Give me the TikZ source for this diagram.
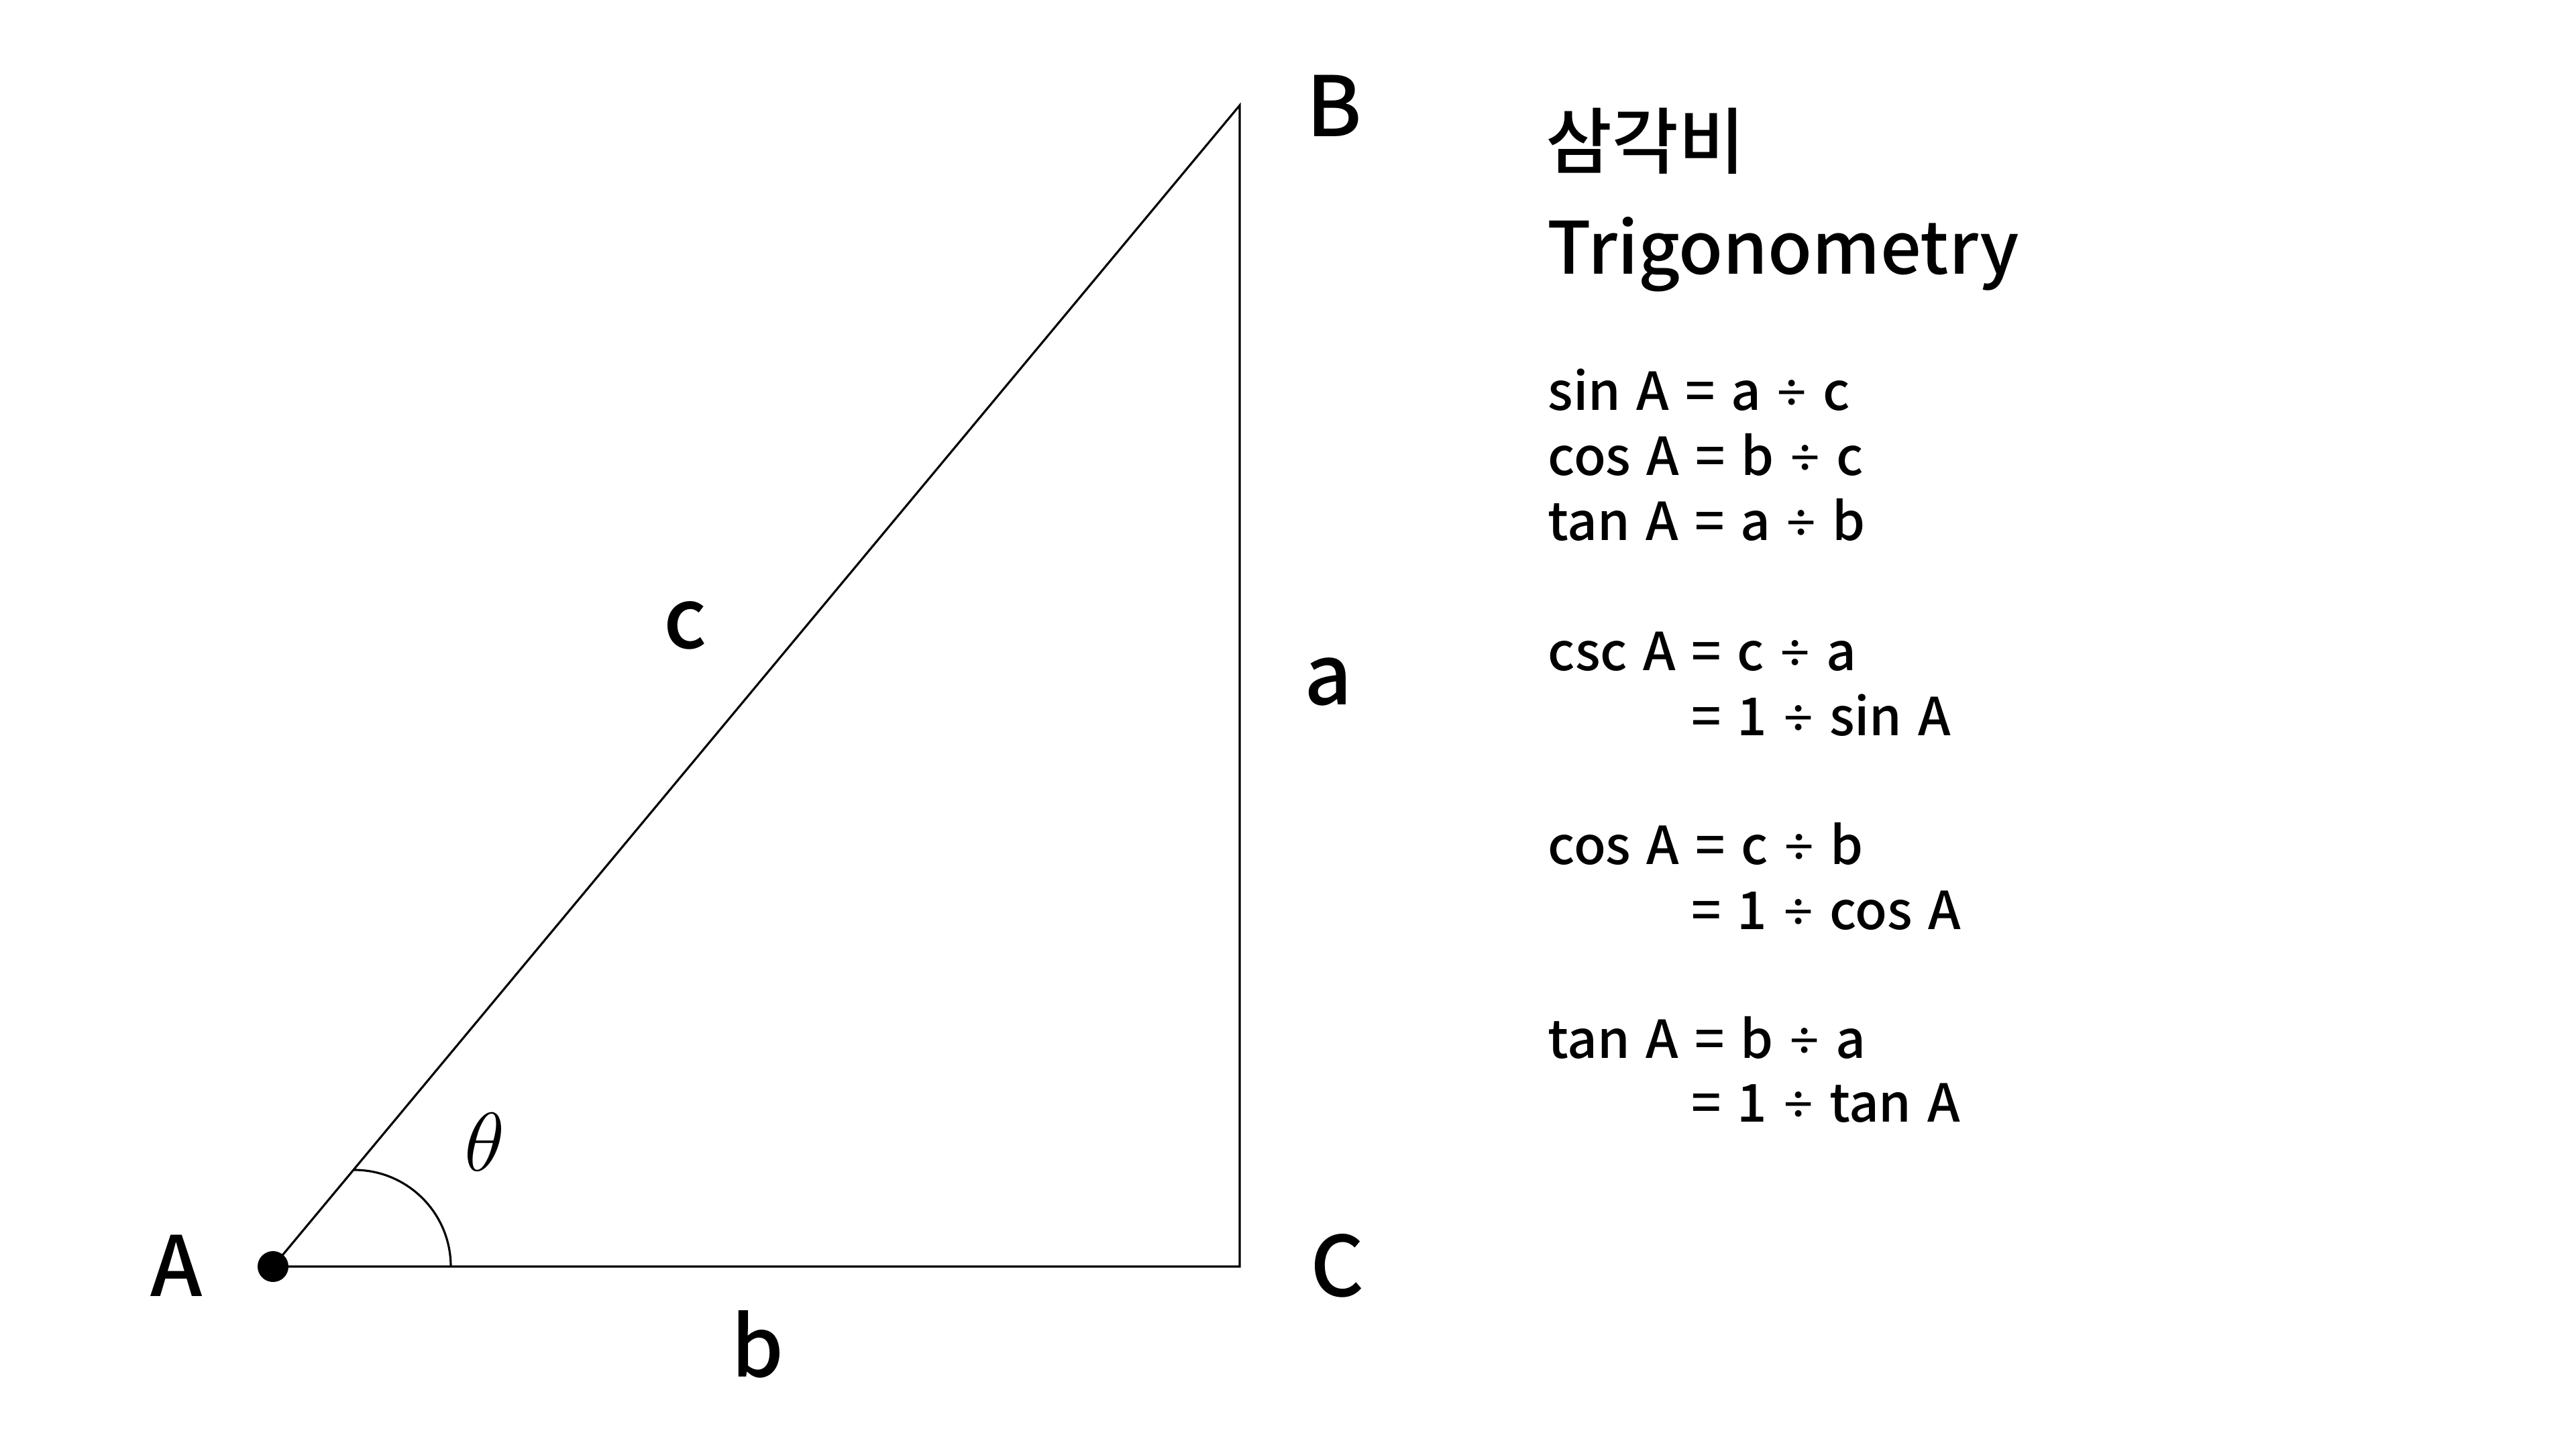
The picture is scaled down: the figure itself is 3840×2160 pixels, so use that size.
\RequirePackage{fix-cm}
\documentclass[tikz,border=0pt]{standalone}
\usepackage{fontspec}
\setmainfont{Noto Sans CJK KR}[UprightFont=* Medium]
\newfontfamily\eqfont{Noto Sans CJK KR}[UprightFont=* Medium, WordSpace=1.35]
\newfontfamily\dvfont{Lato}
\newcommand{\dv}{{\dvfont ÷}}
\begin{document}
\begin{tikzpicture}[x=0.1mm,y=-0.1mm]
\tikzset{
  lbl/.style={inner sep=0pt, anchor=base, font=\fontsize{35.3pt}{40pt}\selectfont},
  ttl/.style={inner sep=0pt, anchor=base west, font=\fontsize{30.6pt}{36pt}\selectfont},
  eqn/.style={inner sep=0pt, anchor=base west, font=\eqfont\fontsize{22.2pt}{26pt}\selectfont},
  side/.style={line width=0.9pt, black},
  vdot/.style={circle, fill=black, inner sep=0pt, minimum size=4.6mm},
}
\fill[white] (0,0) rectangle (3840,2160);
\useasboundingbox (0,0) rectangle (3840,2160);
% triangle
\coordinate (A) at (407,1888);
\coordinate (B) at (1848,157);
\coordinate (C) at (1848,1888);
\draw[side] (A) -- (C) -- (B) -- cycle;
\coordinate (arcS) at (672,1888);
\draw[side] (arcS) arc[start angle=0, end angle=-90, radius=144];
\node[vdot] (dotA) at (A) {};
% labels
\node[lbl] (lA) at (263,1932) {A};
\node[lbl] (lB) at (1989,203) {B};
\node[lbl] (lC) at (1994,1932) {C};
\node[lbl] (la) at (1980,1050) {a};
\node[lbl] (lb) at (1130,2052) {b};
\node[lbl] (lc) at (1022,966) {c};
\node[lbl] (th) at (722,1745) {$\theta$};
% right text
\node[ttl] (kr) at (2304,250) {삼각비};
\node[ttl] (en) at (2306,408) {Trigonometry};
\node[eqn] (e1) at (2307,611) {sin A = a \dv{} c};
\node[eqn] (e2) at (2307,708) {cos A = b \dv{} c};
\node[eqn] (e3) at (2307,805) {tan A = a \dv{} b};
\node[eqn] (e4) at (2307,999) {csc A = c \dv{} a};
\node[eqn] (e5) at (2521,1096) {= 1 \dv{} sin A};
\node[eqn] (e6) at (2307,1288) {cos A = c \dv{} b};
\node[eqn] (e7) at (2521,1385) {= 1 \dv{} cos A};
\node[eqn] (e8) at (2307,1577) {tan A = b \dv{} a};
\node[eqn] (e9) at (2521,1672) {= 1 \dv{} tan A};
\end{tikzpicture}
\end{document}
